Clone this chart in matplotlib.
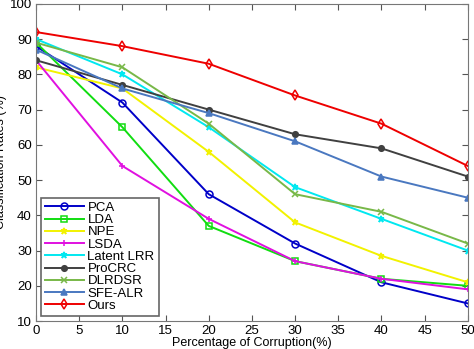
import matplotlib
matplotlib.use("Agg")
import matplotlib.pyplot as plt

plt.rcParams["font.family"] = ["Liberation Sans", "DejaVu Sans"]

corruption = [0, 10, 20, 30, 40, 50]

methods = ["PCA", "LDA", "NPE", "LSDA", "Latent LRR", "ProCRC", "DLRDSR", "SFE-ALR", "Ours"]
pca = [88, 72, 46, 32, 21, 15]
lda = [89, 65, 37, 27, 22, 20]
npe = [82, 76, 58, 38, 28.5, 21]
lsda = [84, 54, 39, 27, 22, 19]
latent_lrr = [90, 80, 65, 48, 39, 30]
procrc = [84, 77, 70, 63, 59, 51]
dlrdsr = [89, 82, 66, 46, 41, 32]
sfe_alr = [87, 76, 69, 61, 51, 45]
ours = [92, 88, 83, 74, 66, 54]

series = [pca, lda, npe, lsda, latent_lrr, procrc, dlrdsr, sfe_alr, ours]

styles = [
    dict(color="#0000c8", marker="o", mfc="none", ms=5),
    dict(color="#11dd11", marker="s", mfc="none", ms=4),
    dict(color="#f2f200", marker="*", ms=5),
    dict(color="#e010e0", marker="+", ms=5),
    dict(color="#00e8f0", marker="*", ms=5),
    dict(color="#404040", marker="o", ms=4),
    dict(color="#78b848", marker="x", ms=4),
    dict(color="#4a78c0", marker="^", ms=5),
    dict(color="#ee0000", marker="d", mfc="none", ms=5),
]

fig = plt.figure(figsize=(4.74, 3.49), dpi=100)
ax = fig.add_axes([0.076, 0.080, 0.911, 0.909])

for name, vals, st in zip(methods, series, styles):
    ax.plot(corruption, vals, label=name, lw=1.4, mew=1.1, **st)

ax.set_xlim(0, 50)
ax.set_ylim(10, 100)
ax.set_xticks(range(0, 51, 5))
ax.set_yticks(range(10, 101, 10))
ax.tick_params(direction="in", top=True, right=True, labelsize=9.5, length=4,
               color="#555555", pad=3)
for s in ax.spines.values():
    s.set_color("#777777")
ax.set_xlabel("Percentage of Corruption(%)", fontsize=9, labelpad=0)
ax.set_ylabel("Classification Rates (%)", fontsize=9, labelpad=2)

leg = ax.legend(loc="lower left", fontsize=9.5, handlelength=2.9,
                borderpad=0.3, labelspacing=0.0, handletextpad=0.3,
                fancybox=False, framealpha=1, edgecolor="#666666",
                bbox_to_anchor=(0.0, 0.0), borderaxespad=0.4)
leg.get_frame().set_linewidth(1.2)

fig.savefig("out.png", dpi=100)
